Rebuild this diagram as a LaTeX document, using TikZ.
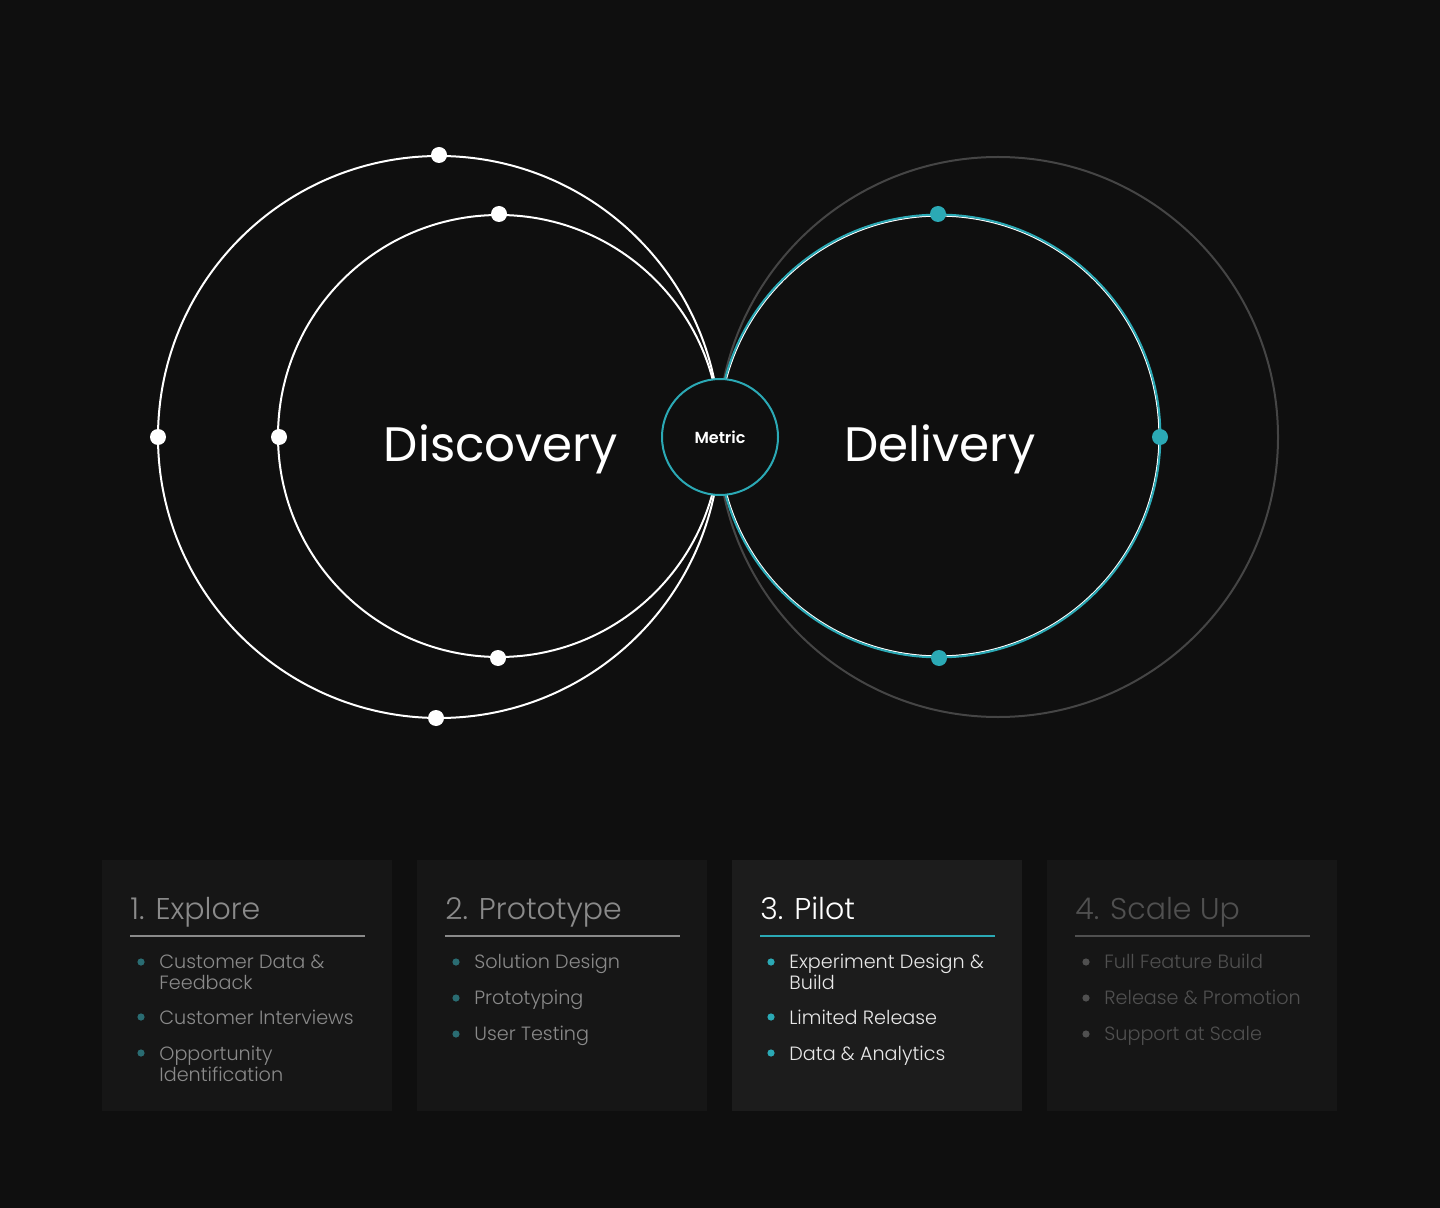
\documentclass[tikz,border=0pt]{standalone}
\usepackage{fontspec}
\setmainfont{Poppins}
\newfontfamily\poplight{Poppins Light}
\newfontfamily\popsemi{Poppins SemiBold}
\usetikzlibrary{positioning}
\definecolor{bgc}{HTML}{0F0F0F}
\definecolor{panelc}{HTML}{161616}
\definecolor{panelhi}{HTML}{1C1C1C}
\definecolor{tealc}{HTML}{2BA9B5}
\definecolor{tealdim}{HTML}{2A6C72}
\definecolor{ringgray}{HTML}{454545}
\definecolor{dimtext}{HTML}{8A8A8A}
\definecolor{fadetext}{HTML}{505050}
\definecolor{brighttext}{HTML}{E8E8E8}

\begin{document}
\begin{tikzpicture}[x=0.5pt,y=-0.5pt,
    ring/.style={line width=1pt},
    dot/.style={circle,inner sep=0pt,minimum size=8pt,fill=white},
    bigword/.style={anchor=base,inner sep=0pt,text=white,font=\fontsize{24.2}{29}\selectfont},
    ptitle/.style={anchor=base west,inner sep=0pt,font=\poplight\fontsize{15}{18}\selectfont},
    pitem/.style={anchor=base west,inner sep=0pt,align=left,font=\poplight\fontsize{9.6}{10.5}\selectfont},
    bullet/.style={circle,inner sep=0pt,minimum size=3.6pt},
    rule/.style={line width=1pt}]
    \fill[bgc] (0,0) rectangle (1440,1208);
    \useasboundingbox (0,0) rectangle (1440,1208);
    % the two loops
    \coordinate (Lo) at (439,437);
    \coordinate (Li) at (499,436);
    \coordinate (Ro) at (998,437);
    \coordinate (Ri) at (939,436);
    \draw[ring, white] (Lo) circle (140.5pt);
    \draw[ring, white] (Li) circle (110.5pt);
    \draw[ring, ringgray] (Ro) circle (140pt);
    \draw[ring, white, line width=0.6pt] (Ri) circle (110pt);
    \draw[ring, tealc] (Ri) circle (110.7pt);
    \node[dot] (lo1) at (439,155) {};
    \node[dot] (lo2) at (158,437) {};
    \node[dot] (lo3) at (436,718) {};
    \node[dot] (li1) at (499,214) {};
    \node[dot] (li2) at (279,437) {};
    \node[dot] (li3) at (498,658) {};
    \node[dot, fill=tealc] (ri1) at (938,214) {};
    \node[dot, fill=tealc] (ri2) at (1160,437) {};
    \node[dot, fill=tealc] (ri3) at (939,658) {};
    \node[circle, draw=tealc, fill=bgc, line width=1pt, minimum size=58pt,
        inner sep=0pt, text=white, font=\popsemi\fontsize{8}{10}\selectfont] (metric) at (720,437) {Metric};
    \node[bigword] (disc) at (501,461) {Discovery};
    \node[bigword] (deli) at (940,461) {Delivery};

    % phase panels
    \begin{scope}
        \fill[panelc] (102,860) rectangle (392,1111);
        \node[ptitle, text=dimtext] (explore) at (130,919) {1. Explore};
        \draw[rule, dimtext] (130,936) -- (365,936);
        \node[bullet, fill=tealdim] (eb1) at (141,962) {};
        \node[bullet, fill=tealdim] (eb2) at (141,1017) {};
        \node[bullet, fill=tealdim] (eb3) at (141,1053) {};
        \node[pitem, text=dimtext] (ei1) at (159,989) {Customer Data \&\\Feedback};
        \node[pitem, text=dimtext] (ei2) at (159,1024) {Customer Interviews};
        \node[pitem, text=dimtext] (ei3) at (159,1081) {Opportunity\\Identification};
    \end{scope}
    \begin{scope}[shift={(315,0)}]
        \fill[panelc] (102,860) rectangle (392,1111);
        \node[ptitle, text=dimtext] (proto) at (130,919) {2. Prototype};
        \draw[rule, dimtext] (130,936) -- (365,936);
        \node[bullet, fill=tealdim] (pb1) at (141,962) {};
        \node[bullet, fill=tealdim] (pb2) at (141,998) {};
        \node[bullet, fill=tealdim] (pb3) at (141,1034) {};
        \node[pitem, text=dimtext] (pi1) at (159,968) {Solution Design};
        \node[pitem, text=dimtext] (pi2) at (159,1004) {Prototyping};
        \node[pitem, text=dimtext] (pi3) at (159,1040) {User Testing};
    \end{scope}
    \begin{scope}[shift={(630,0)}]
        \fill[panelhi] (102,860) rectangle (392,1111);
        \node[ptitle, text=white] (pilot) at (130,919) {3. Pilot};
        \draw[rule, tealc] (130,936) -- (365,936);
        \node[bullet, fill=tealc] (lb1) at (141,962) {};
        \node[bullet, fill=tealc] (lb2) at (141,1017) {};
        \node[bullet, fill=tealc] (lb3) at (141,1053) {};
        \node[pitem, text=brighttext] (li1) at (159,989) {Experiment Design \&\\Build};
        \node[pitem, text=brighttext] (li2) at (159,1024) {Limited Release};
        \node[pitem, text=brighttext] (li3) at (159,1060) {Data \& Analytics};
    \end{scope}
    \begin{scope}[shift={(945,0)}]
        \fill[panelc] (102,860) rectangle (392,1111);
        \node[ptitle, text=fadetext] (scale) at (130,919) {4. Scale Up};
        \draw[rule, fadetext] (130,936) -- (365,936);
        \node[bullet, fill=fadetext] (sb1) at (141,962) {};
        \node[bullet, fill=fadetext] (sb2) at (141,998) {};
        \node[bullet, fill=fadetext] (sb3) at (141,1034) {};
        \node[pitem, text=fadetext] (si1) at (159,968) {Full Feature Build};
        \node[pitem, text=fadetext] (si2) at (159,1004) {Release \& Promotion};
        \node[pitem, text=fadetext] (si3) at (159,1040) {Support at Scale};
    \end{scope}
\end{tikzpicture}
\end{document}
